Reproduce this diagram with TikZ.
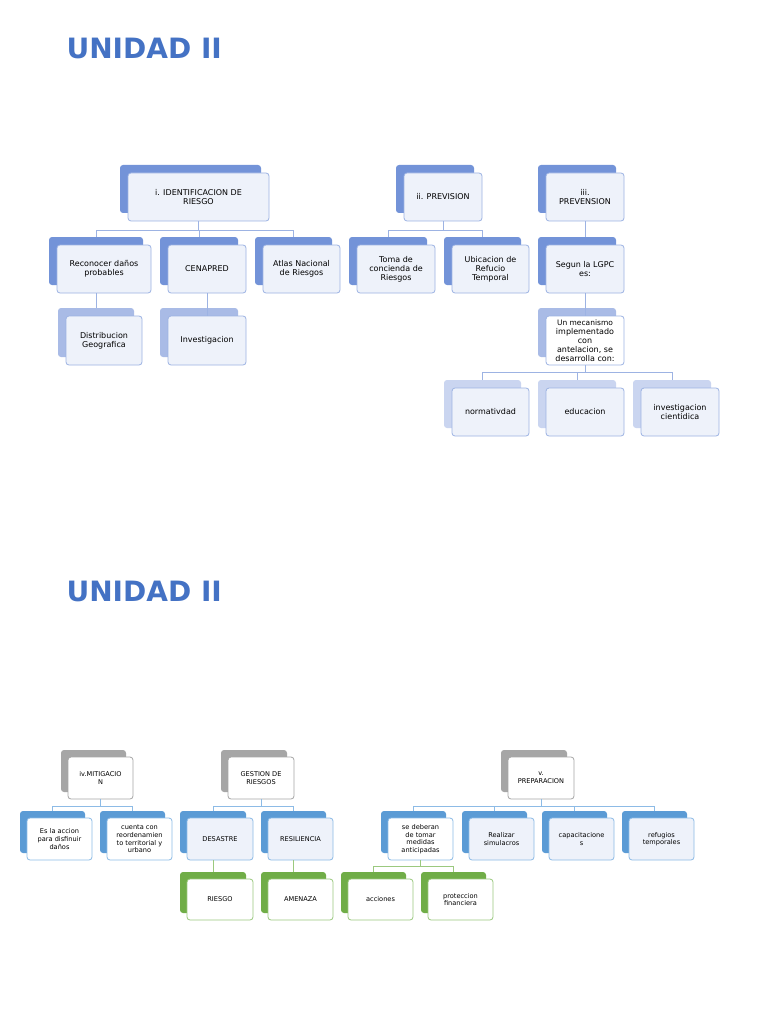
\documentclass[tikz,border=0pt]{standalone}
\usepackage{fontspec}
\setmainfont{DejaVu Sans}
\definecolor{bA}{HTML}{7393D8}
\definecolor{bB}{HTML}{A9BBE6}
\definecolor{bC}{HTML}{CAD5F0}
\definecolor{eA}{HTML}{9DB3E3}
\definecolor{gA}{HTML}{A6A6A6}
\definecolor{uA}{HTML}{5B9BD5}
\definecolor{uE}{HTML}{8DBBE6}
\definecolor{nA}{HTML}{70AD47}
\definecolor{nE}{HTML}{9BC97F}
\definecolor{ttl}{HTML}{4472C4}
\definecolor{fr}{HTML}{EEF2FA}
\def\off{8}
\def\fs{\fontsize{8}{9}\selectfont}
% name, x1,y1,x2,y2, backcol, edgecol, fill, text
\newcommand\card[9]{%
  \node[fill=#6,rounded corners=3pt,minimum width={(#4-#2)*1pt},minimum height={(#5-#3)*1pt},inner sep=0pt]
    (#1b) at ({(#2+#4)/2-\off},{-(#3+#5)/2+\off}) {};
  \node[draw=#7,fill=#8,line width=0.8pt,rounded corners=3pt,minimum width={(#4-#2)*1pt},minimum height={(#5-#3)*1pt},
    inner sep=1pt,align=center,font=\fs]
    (#1) at ({(#2+#4)/2},{-(#3+#5)/2}) {#9};}
\begin{document}
\begin{tikzpicture}[x=1pt,y=1pt,conA/.style={draw=eA,line width=0.8pt},conU/.style={draw=uE,line width=0.8pt},conN/.style={draw=nE,line width=0.8pt}]
\fill[white] (0,0) rectangle (768,-1024);
\node[anchor=west,font=\fontsize{28}{30}\selectfont\bfseries,text=ttl] (t1) at (63,-48) {UNIDAD II};
\node[anchor=west,font=\fontsize{28}{30}\selectfont\bfseries,text=ttl] (t2) at (63,-591) {UNIDAD II};
% top section
\card{ident}{128}{173}{269}{221}{bA}{eA}{fr}{i. IDENTIFICACION DE\\RIESGO}
\card{prev}{404}{173}{482}{221}{bA}{eA}{fr}{ii. PREVISION}
\card{pren}{546}{173}{624}{221}{bA}{eA}{fr}{iii.\\PREVENSION}
\card{rec}{57}{245}{151}{293}{bA}{eA}{fr}{Reconocer daños\\probables}
\card{cen}{168}{245}{246}{293}{bA}{eA}{fr}{CENAPRED}
\card{atl}{263}{245}{340}{293}{bA}{eA}{fr}{Atlas Nacional\\de Riesgos}
\card{tom}{357}{245}{435}{293}{bA}{eA}{fr}{Toma de\\concienda de\\Riesgos}
\card{ubi}{452}{245}{529}{293}{bA}{eA}{fr}{Ubicacion de\\Refucio\\Temporal}
\card{seg}{546}{245}{624}{293}{bA}{eA}{fr}{Segun la LGPC\\es:}
\card{dis}{66}{316}{142}{365}{bB}{eA}{fr}{Distribucion\\Geografica}
\card{inv}{168}{316}{246}{365}{bB}{eA}{fr}{Investigacion}
\card{mec}{546}{316}{624}{365}{bB}{eA}{white}{\fontsize{7.5}{8.2}\selectfont Un mecanismo\\implementado\\con\\antelacion, se\\desarrolla con:}
\card{nor}{452}{388}{529}{436}{bC}{eA}{fr}{normativdad}
\card{edu}{546}{388}{624}{436}{bC}{eA}{fr}{educacion}
\card{ic}{641}{388}{719}{436}{bC}{eA}{fr}{investigacion\\cientidica}
\foreach \c in {recb,cenb,atlb} \draw[conA] (ident.south) -- ++(0,-9) -| (\c.north);
\foreach \c in {tomb,ubib} \draw[conA] (prev.south) -- ++(0,-9) -| (\c.north);
\draw[conA] (pren.south) -- (pren.south |- segb.north);
\draw[conA] (disb.north) -- (disb.north |- rec.south);
\draw[conA] (inv.north) -- (inv.north |- cen.south);
\draw[conA] (seg.south) -- (seg.south |- mec.north);
\foreach \c in {norb,edub,icb} \draw[conA] (mec.south) -- ++(0,-7) -| (\c.north);
% bottom section
\def\off{7}
\def\fs{\fontsize{6.6}{7.6}\selectfont}
\card{mit}{68}{757}{133}{799}{gA}{gA}{white}{iv.MITIGACIO\\N}
\card{ges}{228}{757}{294}{799}{gA}{gA}{white}{GESTION DE\\RIESGOS}
\card{pre}{508}{757}{574}{799}{gA}{gA}{white}{v.\\PREPARACION}
\card{esl}{27}{818}{92}{860}{uA}{uE}{white}{Es la accion\\para disfinuir\\daños}
\card{cue}{107}{818}{172}{860}{uA}{uE}{white}{cuenta con\\reordenamien\\to territorial y\\urbano}
\card{des}{187}{818}{253}{860}{uA}{uE}{fr}{DESASTRE}
\card{res}{268}{818}{333}{860}{uA}{uE}{fr}{RESILIENCIA}
\card{sed}{388}{818}{453}{860}{uA}{uE}{white}{se deberan\\de tomar\\medidas\\anticipadas}
\card{rea}{469}{818}{534}{860}{uA}{uE}{fr}{Realizar\\simulacros}
\card{cap}{549}{818}{614}{860}{uA}{uE}{fr}{capacitacione\\s}
\card{ref}{629}{818}{694}{860}{uA}{uE}{fr}{refugios\\temporales}
\card{rie}{187}{879}{253}{920}{nA}{nE}{white}{RIESGO}
\card{ame}{268}{879}{333}{920}{nA}{nE}{white}{AMENAZA}
\card{acc}{348}{879}{413}{920}{nA}{nE}{white}{acciones}
\card{pro}{428}{879}{493}{920}{nA}{nE}{white}{proteccion\\financiera}
\foreach \c in {eslb,cueb} \draw[conU] (mit.south) -- ++(0,-7) -| (\c.north);
\foreach \c in {desb,resb} \draw[conU] (ges.south) -- ++(0,-7) -| (\c.north);
\foreach \c in {sedb,reab,capb,refb} \draw[conU] (pre.south) -- ++(0,-7) -| (\c.north);
\draw[conN] (rieb.north) -- (rieb.north |- des.south);
\draw[conN] (ameb.north) -- (ameb.north |- res.south);
\foreach \c in {accb,prob} \draw[conN] (sed.south) -- ++(0,-6) -| (\c.north);
\end{tikzpicture}
\end{document}
